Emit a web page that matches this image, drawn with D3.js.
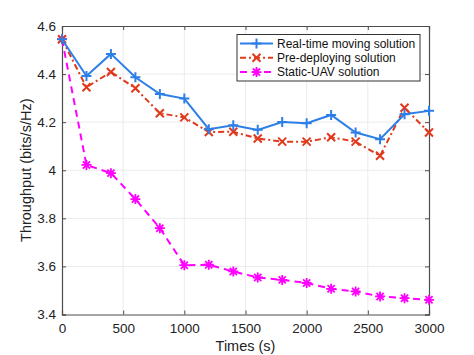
<!DOCTYPE html>
<html><head><meta charset="utf-8">
<script src="https://cdn.jsdelivr.net/npm/d3@7/dist/d3.min.js"></script>
<style>body{margin:0;background:#fff}svg{display:block;font-family:"Liberation Sans",Arial,sans-serif}</style>
</head><body><svg id="c" width="474" height="355"></svg>
<script>
const times = [0,200,400,600,800,1000,1200,1400,1600,1800,2000,2200,2400,2600,2800,3000];
const realTime = [4.545,4.392,4.484,4.387,4.317,4.298,4.171,4.187,4.168,4.201,4.196,4.230,4.157,4.129,4.233,4.247];
const preDeploy = [4.545,4.345,4.409,4.341,4.237,4.220,4.159,4.160,4.132,4.119,4.119,4.137,4.119,4.060,4.260,4.157];
const staticUav = [4.545,4.022,3.988,3.880,3.759,3.605,3.607,3.579,3.554,3.544,3.531,3.507,3.496,3.475,3.468,3.461];
const xTicks = [0,500,1000,1500,2000,2500,3000];
const yTicks = [3.4,3.6,3.8,4,4.2,4.4,4.6];
const seriesNames = ["Real-time moving solution","Pre-deploying solution","Static-UAV solution"];

const svg = d3.select("#c");
const L=62,R=429,T=26,B=314.5;
const x = d3.scaleLinear().domain([0,3000]).range([L,R]);
const y = d3.scaleLinear().domain([3.4,4.6]).range([B,T]);
const axisCol="#4d4d4d";

// grid
svg.append("g").selectAll("line").data(xTicks.slice(1,-1)).join("line")
  .attr("x1",d=>x(d)).attr("x2",d=>x(d)).attr("y1",T).attr("y2",B)
  .attr("stroke","#ebebeb").attr("stroke-width",1);
svg.append("g").selectAll("line").data(yTicks.slice(1,-1)).join("line")
  .attr("y1",d=>y(d)).attr("y2",d=>y(d)).attr("x1",L).attr("x2",R)
  .attr("stroke","#ebebeb").attr("stroke-width",1);

// axes
const xa = svg.append("g").attr("transform",`translate(0,${B})`)
  .call(d3.axisBottom(x).tickValues(xTicks).tickSize(-4).tickPadding(9).tickFormat(d3.format("d")));
const ya = svg.append("g").attr("transform",`translate(${L},0)`)
  .call(d3.axisLeft(y).tickValues(yTicks).tickSize(-4).tickPadding(6).tickFormat(d=>d3.format("")(+d.toFixed(1))));
const xt = svg.append("g").attr("transform",`translate(0,${T})`)
  .call(d3.axisTop(x).tickValues(xTicks).tickSize(-4).tickFormat(""));
const yr = svg.append("g").attr("transform",`translate(${R},0)`)
  .call(d3.axisRight(y).tickValues(yTicks).tickSize(-4).tickFormat(""));
[xa,ya,xt,yr].forEach(g=>{
  g.select(".domain").attr("stroke",axisCol).attr("stroke-width",1.2);
  g.selectAll(".tick line").attr("stroke",axisCol);
  g.selectAll("text").attr("fill","#222").attr("font-size",13.5).attr("font-family","Liberation Sans, Arial, sans-serif");
});

// axis labels
svg.append("text").attr("x",(L+R)/2).attr("y",351).attr("text-anchor","middle")
  .attr("font-size",14.5).attr("fill","#222").text("Times (s)");
svg.append("text").attr("transform",`translate(31,${(T+B)/2}) rotate(-90)`).attr("text-anchor","middle")
  .attr("font-size",14.5).attr("fill","#222").text("Throughput (bits/s/Hz)");

// markers
function marker(g,type,cx,cy,col){
  const s=5;
  const p = d3.path();
  if(type==="plus"){p.moveTo(cx-s,cy);p.lineTo(cx+s,cy);p.moveTo(cx,cy-s);p.lineTo(cx,cy+s);}
  else if(type==="x"){const t=s*0.8;p.moveTo(cx-t,cy-t);p.lineTo(cx+t,cy+t);p.moveTo(cx-t,cy+t);p.lineTo(cx+t,cy-t);}
  else {p.moveTo(cx-s,cy);p.lineTo(cx+s,cy);p.moveTo(cx,cy-s);p.lineTo(cx,cy+s);
    const t=s*0.72;p.moveTo(cx-t,cy-t);p.lineTo(cx+t,cy+t);p.moveTo(cx-t,cy+t);p.lineTo(cx+t,cy-t);}
  g.append("path").attr("d",p.toString()).attr("stroke",col).attr("stroke-width",type==="star"?1.8:2).attr("fill","none");
}

const series = [
  {vals:staticUav,col:"#ff00ff",dash:"7,5",m:"star"},
  {vals:preDeploy,col:"#e0391c",dash:"6,3,2,3",m:"x"},
  {vals:realTime,col:"#2d7fe8",dash:null,m:"plus"}
];
const line = d3.line().x((d,i)=>x(times[i])).y(d=>y(d));
series.forEach(s=>{
  const g=svg.append("g");
  g.append("path").attr("d",line(s.vals)).attr("fill","none").attr("stroke",s.col)
    .attr("stroke-width",2).attr("stroke-dasharray",s.dash);
  s.vals.forEach((v,i)=>marker(g,s.m,x(times[i]),y(v),s.col));
});

// legend
const lg = svg.append("g");
lg.append("rect").attr("x",237).attr("y",34.5).attr("width",183).attr("height",46.5)
  .attr("fill","#fff").attr("stroke","#333").attr("stroke-width",1);
const legItems=[series[2],series[1],series[0]];
legItems.forEach((s,i)=>{
  const ly=43.5+i*14.3;
  lg.append("line").attr("x1",240).attr("x2",273).attr("y1",ly).attr("y2",ly)
    .attr("stroke",s.col).attr("stroke-width",2).attr("stroke-dasharray",s.dash);
  marker(lg,s.m,256.5,ly,s.col);
  lg.append("text").attr("x",277).attr("y",ly+4.3).attr("font-size",12).attr("fill","#111").text(seriesNames[i]);
});
</script></body></html>
